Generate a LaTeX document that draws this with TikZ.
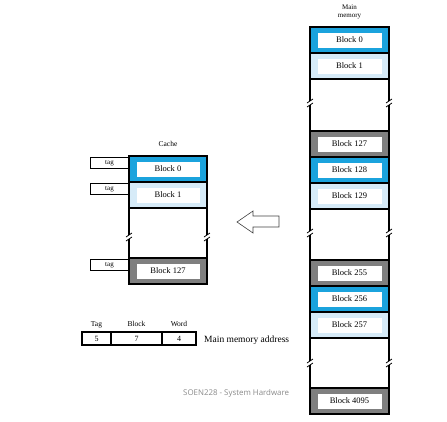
\documentclass[tikz,border=0pt]{standalone}
\usepackage{fontspec}
\setmainfont{Liberation Serif}
\newfontfamily\footfont{Open Sans}
\definecolor{blkcyan}{HTML}{1BA3DD}
\definecolor{blklight}{HTML}{D6EBF8}
\definecolor{blkgray}{HTML}{7F7F7F}
\definecolor{foottext}{HTML}{8A8A8A}
\tikzset{
  memblk/.style={draw=black, line width=1.3pt, minimum width=79pt, minimum height=26pt, inner sep=0pt},
  cacheblk/.style={draw=black, line width=1.3pt, minimum width=78pt, minimum height=26pt, inner sep=0pt},
  lbl/.style={fill=white, minimum width=64pt, minimum height=15pt, inner sep=0pt, font=\fontsize{8.5}{9}\selectfont},
  tagbox/.style={draw=black, line width=0.8pt, minimum width=38pt, minimum height=11pt, inner sep=0pt, font=\fontsize{7}{7}\selectfont},
  field/.style={draw=black, line width=1.3pt, minimum height=13pt, inner sep=0pt, font=\fontsize{8}{8}\selectfont},
  smalltext/.style={font=\fontsize{7.5}{8}\selectfont, inner sep=0pt},
  wall/.style={line width=1.3pt},
  brkline/.style={line width=0.8pt},
}
\newcommand\brkmark[2]{%
  \draw[brkline] (#1-3,#2) -- (#1+3,#2-4);
  \draw[brkline] (#1-3,#2+4) -- (#1+3,#2);
}
\begin{document}
\begin{tikzpicture}[x=1pt,y=-1pt]
\useasboundingbox (0,0) rectangle (447,421);

% ---------- Main memory ----------
\node[smalltext, align=center, font=\fontsize{7}{8}\selectfont] (mmtitle) at (349.5,12) {Main\\memory};
\node[memblk, fill=blkcyan] (m0) at (349.5,40) {};
\node[lbl] (m0l) at (m0) {Block 0};
\node[memblk, fill=blklight] (m1) at (349.5,66) {};
\node[lbl] (m1l) at (m1) {Block 1};

\node[memblk, fill=blkgray] (m127) at (349.5,144) {};
\node[lbl] (m127l) at (m127) {Block 127};
\node[memblk, fill=blkcyan] (m128) at (349.5,170) {};
\node[lbl] (m128l) at (m128) {Block 128};
\node[memblk, fill=blklight] (m129) at (349.5,196) {};
\node[lbl] (m129l) at (m129) {Block 129};

\node[memblk, fill=blkgray] (m255) at (349.5,273) {};
\node[lbl] (m255l) at (m255) {Block 255};
\node[memblk, fill=blkcyan] (m256) at (349.5,299) {};
\node[lbl] (m256l) at (m256) {Block 256};
\node[memblk, fill=blklight] (m257) at (349.5,325) {};
\node[lbl] (m257l) at (m257) {Block 257};

\node[memblk, fill=blkgray] (m4095) at (349.5,401) {};
\node[lbl] (m4095l) at (m4095) {Block 4095};

% walls with breaks (main memory)
\foreach \xx in {310,389} {
  \draw[wall] (\xx,79) -- (\xx,101);
  \draw[wall] (\xx,105) -- (\xx,131);
  \brkmark{\xx}{103}
  \draw[wall] (\xx,209) -- (\xx,231);
  \draw[wall] (\xx,235) -- (\xx,260);
  \brkmark{\xx}{233}
  \draw[wall] (\xx,338) -- (\xx,361);
  \draw[wall] (\xx,365) -- (\xx,388);
  \brkmark{\xx}{363}
}

% ---------- Cache ----------
\node[smalltext] (ctitle) at (168,144) {Cache};
\node[cacheblk, fill=blkcyan] (c0) at (168,169) {};
\node[lbl, minimum width=63pt] (c0l) at (c0) {Block 0};
\node[cacheblk, fill=blklight] (c1) at (168,195) {};
\node[lbl, minimum width=63pt] (c1l) at (c1) {Block 1};
\node[cacheblk, fill=blkgray] (c127) at (168,271) {};
\node[lbl, minimum width=63pt] (c127l) at (c127) {Block 127};

\foreach \xx in {129,207} {
  \draw[wall] (\xx,208) -- (\xx,235);
  \draw[wall] (\xx,239) -- (\xx,258);
  \brkmark{\xx}{237}
}

\node[tagbox] (t0) at (109.5,163) {tag};
\node[tagbox] (t1) at (109.5,189) {tag};
\node[tagbox] (t127) at (109.5,265) {tag};

% ---------- Arrow ----------
\draw[line width=0.6pt, draw=black!75] (237,222) -- (253,211) -- (253,216) -- (279,216) -- (279,227) -- (253,227) -- (253,233) -- cycle;

% ---------- Address format ----------
\node[field, minimum width=29pt] (ftag) at (96.5,338.5) {5};
\node[field, minimum width=51pt] (fblock) at (136.5,338.5) {7};
\node[field, minimum width=34pt] (fword) at (179,338.5) {4};
\node[smalltext] (ltag) at (ftag.north) [yshift=7pt] {Tag};
\node[smalltext] (lblock) at (fblock.north) [yshift=7pt] {Block};
\node[smalltext] (lword) at (fword.north) [yshift=7pt] {Word};
\node[smalltext, anchor=west, font=\fontsize{9.5}{10}\selectfont] (addr) at (204,340) {Main memory address};

% ---------- Footer ----------
\node[inner sep=0pt, anchor=west, text=foottext, font=\footfont\fontsize{7.9}{8}\selectfont] (foot) at (183,393) {SOEN228 - System Hardware};
\end{tikzpicture}
\end{document}
